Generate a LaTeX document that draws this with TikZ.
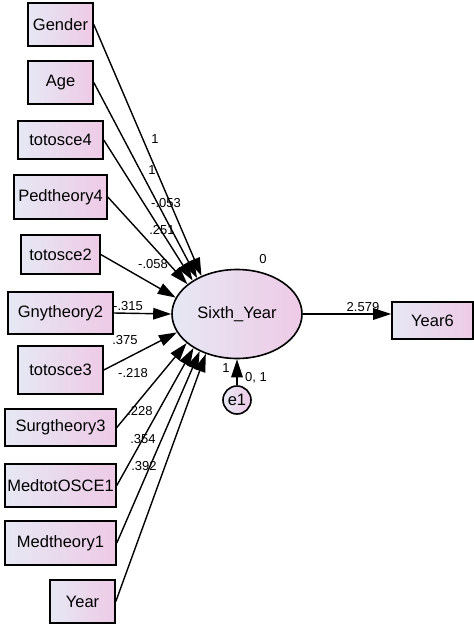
\documentclass[tikz,border=0pt]{standalone}
\usepackage{fontspec}
\setmainfont{Liberation Sans}
\usetikzlibrary{shapes.geometric}
\usetikzlibrary{arrows.meta}
\definecolor{boxleft}{RGB}{230,232,244}
\definecolor{boxright}{RGB}{238,202,230}

\begin{document}
\begin{tikzpicture}[x=1pt,y=-1pt,
  obs/.style={draw,line width=1.6pt,left color=boxleft,right color=boxright,inner sep=0pt,font=\fontsize{16.5}{17}\selectfont},
  reg/.style={-{Triangle[length=18pt,width=11.5pt]},line width=1.4pt},
  est/.style={font=\fontsize{13}{14}\selectfont}]
\useasboundingbox (0,0) rectangle (474,627);
% observed variables
\node (gender) [obs,minimum width=65pt,minimum height=43pt] at (60.5,24.5) {Gender};
\node (age) [obs,minimum width=65pt,minimum height=43pt] at (60.5,82.5) {Age};
\node (totosce4) [obs,minimum width=85pt,minimum height=38pt] at (60.5,140) {totosce4};
\node (pedtheory4) [obs,minimum width=93pt,minimum height=44pt] at (60.5,197) {Pedtheory4};
\node (totosce2) [obs,minimum width=79pt,minimum height=39pt] at (60.5,254.5) {totosce2};
\node (gnytheory2) [obs,minimum width=105pt,minimum height=42pt] at (60.5,313) {Gnytheory2};
\node (totosce3) [obs,minimum width=85pt,minimum height=48pt] at (60.5,370) {totosce3};
\node (surgtheory3) [obs,minimum width=111pt,minimum height=37pt] at (60.5,427.5) {Surgtheory3};
\node (medtotosce1) [obs,minimum width=111pt,minimum height=43pt] at (60.5,485.5) {MedtotOSCE1};
\node (medtheory1) [obs,minimum width=111pt,minimum height=44pt] at (60.5,543) {Medtheory1};
\node (year) [obs,minimum width=65pt,minimum height=43pt] at (82.5,601.5) {Year};
\node (year6) [obs,minimum width=81pt,minimum height=37pt] at (432.5,320.5) {Year6};
% latent and error
\node (sixth) [obs,ellipse,minimum width=130pt,minimum height=89pt] at (237,314) {Sixth\_Year};
\node (e1) [obs,circle,minimum size=28pt] at (237,400) {e1};
% regressions
\draw [reg] (gender.east) -- (sixth.133);
\draw [reg] (age.east) -- (sixth.138);
\draw [reg] (totosce4.east) -- (sixth.143);
\draw [reg] (pedtheory4.east) -- (sixth.149);
\draw [reg] (totosce2.east) -- (sixth.165);
\draw [reg] (gnytheory2.east) -- (sixth.west);
\draw [reg] (totosce3.east) -- (sixth.197);
\draw [reg] (surgtheory3.east) -- (sixth.210);
\draw [reg] (medtotosce1.east) -- (sixth.218);
\draw [reg] (medtheory1.east) -- (sixth.225);
\draw [reg] (year.east) -- (sixth.232);
\draw [reg] (sixth.east) -- (sixth.east -| year6.west);
\draw [reg] (e1.north) -- (sixth.south);
% estimates
\node (wgender) [est] at (155,139) {1};
\node (wage) [est] at (152,170) {1};
\node (wtotosce4) [est] at (166,203) {-.053};
\node (wpedtheory4) [est] at (162,230) {.251};
\node (wtotosce2) [est] at (153,264) {-.058};
\node (wgnytheory2) [est] at (128,306) {-.315};
\node (wtotosce3) [est] at (125,340) {.375};
\node (wsurgtheory3) [est] at (133,373) {-.218};
\node (wmedtotosce1) [est] at (140,411) {.228};
\node (wmedtheory1) [est] at (143,439) {.354};
\node (wyear) [est] at (144,466) {.392};
\node (wyear6) [est] at (363,307) {2.579};
\node (wmean) [est] at (263,259) {0};
\node (we1) [est] at (226,368) {1};
\node (ve1) [est] at (256,378) {0, 1};
\end{tikzpicture}
\end{document}
